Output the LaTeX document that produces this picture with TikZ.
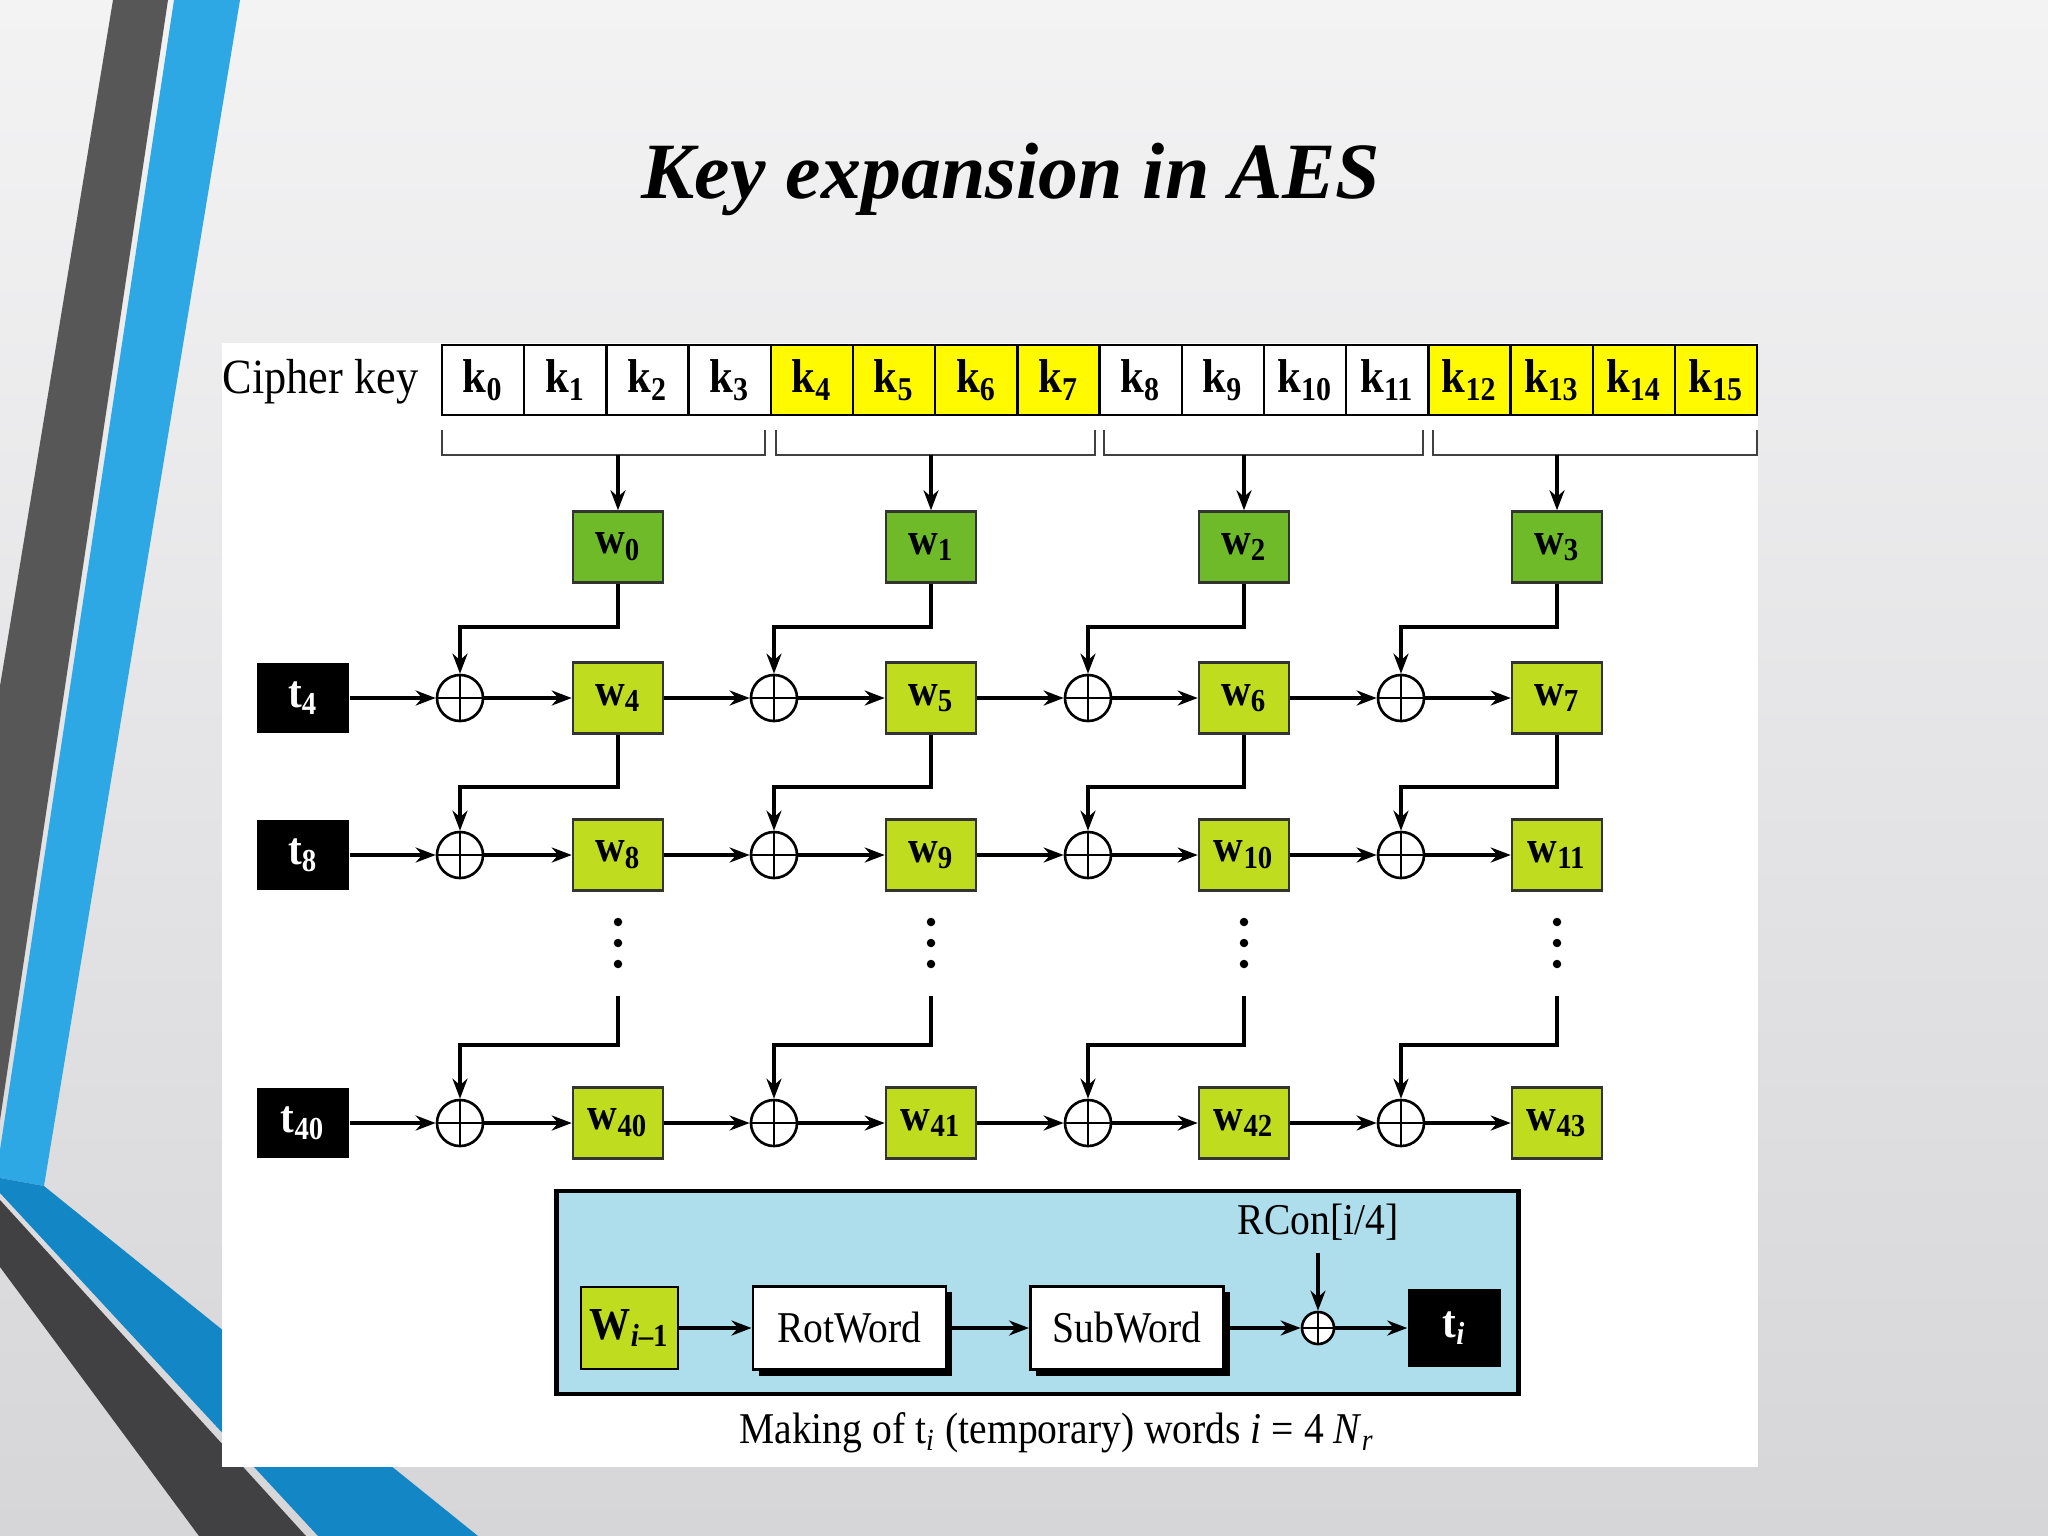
\documentclass[tikz,border=0pt]{standalone}
\usepackage{fontspec}
\setmainfont{Liberation Serif}
\newfontfamily\diag[FakeStretch=0.9]{Liberation Serif}
\usetikzlibrary{arrows.meta,calc,shadows}
\definecolor{bgtop}{RGB}{243,243,244}
\definecolor{bgbot}{RGB}{214,214,217}
\definecolor{stripeblue}{RGB}{46,168,229}
\definecolor{stripegray}{RGB}{87,87,87}
\definecolor{banddark}{RGB}{65,64,66}
\definecolor{bandblue}{RGB}{19,134,197}
\definecolor{keyyellow}{RGB}{255,250,0}
\definecolor{wdark}{RGB}{110,186,40}
\definecolor{wlime}{RGB}{192,220,30}
\definecolor{panelblue}{RGB}{174,222,236}
\begin{document}
\begin{tikzpicture}[x=0.01cm, y=-0.01cm,
  kcell/.style={draw=black, line width=0.7pt, minimum width=0.822cm, minimum height=0.70cm, inner sep=0pt, font=\diag\fontsize{13.5}{15}\selectfont\bfseries},
  wbox/.style={draw=black!80, line width=0.7pt, minimum width=0.90cm, minimum height=0.71cm, inner sep=0pt, font=\diag\fontsize{13}{15}\selectfont\bfseries},
  tbox/.style={fill=black, text=white, minimum width=0.92cm, minimum height=0.70cm, inner sep=0pt, font=\diag\fontsize{13}{15}\selectfont\bfseries},
  xorc/.style={circle, draw=black, fill=white, line width=0.75pt, minimum size=0.46cm, inner sep=0pt,
    path picture={\draw[line width=0.75pt] (path picture bounding box.north) -- (path picture bounding box.south)
      (path picture bounding box.west) -- (path picture bounding box.east);}},
  arr/.style={-{Stealth[length=0.2cm,width=0.15cm]}, line width=1pt},
  brk/.style={line width=0.6pt, draw=black!75},
  opbox/.style={draw=black, fill=white, line width=0.8pt, minimum width=1.93cm, minimum height=0.83cm, inner sep=0pt,
    drop shadow={shadow xshift=0.06cm, shadow yshift=-0.06cm, fill=black, opacity=1}, font=\diag\fontsize{12.5}{15}\selectfont},
  dotn/.style={circle, fill=black, minimum size=0.085cm, inner sep=0pt}
]
\useasboundingbox (0,0) rectangle (2048,1536);
% background
\shade[top color=bgtop, bottom color=bgbot] (0,0) rectangle (2048,1536);
% decoration stripes
\fill[stripegray] (113,0) -- (168,0) -- (0,1120) -- (0,686) -- cycle;
\fill[stripeblue] (174,0) -- (240,0) -- (44,1186) -- (0,1178) -- (0,1150) -- cycle;
\fill[bandblue] (0,1178) -- (44,1186) -- (478,1536) -- (318,1536) -- (0,1193) -- cycle;
\fill[banddark] (0,1200) -- (306,1536) -- (199,1536) -- (0,1267) -- cycle;
% white panel
\fill[white] (222,343) rectangle (1758,1467);
% title
\node[anchor=base, inner sep=0pt, font=\fontsize{22.7}{28}\selectfont\bfseries\itshape] (title) at (1011,198) {Key expansion in AES};
% cipher key
\node[anchor=west, inner sep=0pt, font=\diag\fontsize{14}{16}\selectfont] (ck) at (222,382) {Cipher key};
\foreach \i in {0,...,15} {
  \pgfmathsetmacro\cx{483.1+82.2*\i}
  \pgfmathtruncatemacro\grp{mod(floor(\i/4),2)}
  \ifnum\grp=1 \def\kf{keyyellow}\else\def\kf{white}\fi
  \node[kcell, fill=\kf] (k\i) at (\cx,380) {k\textsubscript{\i}};
}
% brackets
\foreach \a/\b in {442/765, 776/1095, 1104/1423, 1433/1757} {
  \draw[brk] (\a,430) |- (\b,455) -- (\b,430);
}
% columns
\foreach \c/\wx/\xx in {0/618/460, 1/931/774, 2/1244/1088, 3/1557/1401} {
  \coordinate (b\c) at (\wx,455);
  \node[wbox, fill=wdark] (w0\c) at (\wx,547) {w\textsubscript{\c}};
  \draw[arr] (b\c) -- (w0\c.north);
  \foreach \r/\ry/\base in {1/698/4, 2/855/8, 3/1123/40} {
    \pgfmathtruncatemacro\idx{\base+\c}
    \node[xorc] (x\r\c) at (\xx,\ry) {};
    \node[wbox, fill=wlime] (w\r\c) at (\wx,\ry) {w\textsubscript{\idx}};
    \draw[arr] (x\r\c.east) -- (w\r\c.west);
  }
  \node[dotn] (da\c) at (\wx,922) {};
  \node[dotn] (db\c) at (\wx,943) {};
  \node[dotn] (dc\c) at (\wx,964) {};
  \coordinate (d\c) at (\wx,996);
  \draw[arr] (w0\c.south) -- ++(0,43) -| (x1\c.north);
  \draw[arr] (w1\c.south) -- ++(0,52) -| (x2\c.north);
  \draw[arr] (d\c) -- ++(0,49) -| (x3\c.north);
}
% t boxes and horizontal links
\foreach \r/\ry/\base in {1/698/4, 2/855/8, 3/1123/40} {
  \node[tbox] (t\r) at (303,\ry) {t\textsubscript{\base}};
  \draw[arr] (t\r.east) -- (x\r0.west);
  \foreach \c/\n in {0/1, 1/2, 2/3} {
    \draw[arr] (w\r\c.east) -- (x\r\n.west);
  }
}
% bottom panel
\node[draw=black, line width=1.3pt, fill=panelblue, minimum width=9.61cm, minimum height=2.03cm, inner sep=0pt] (panel) at (1037.5,1292.5) {};
\node[wbox, fill=wlime, draw=black, minimum width=0.97cm, minimum height=0.82cm, font=\diag\fontsize{13}{16}\selectfont\bfseries] (wim) at (629.5,1328) {W\textsubscript{\textit{i}–1}};
\node[opbox] (rot) at (849.5,1328) {RotWord};
\node[opbox] (sub) at (1127,1328) {SubWord};
\node[xorc, minimum size=0.32cm] (xs) at (1318,1328) {};
\node[tbox, minimum width=0.93cm, minimum height=0.78cm] (ti) at (1454.5,1328) {t\textsubscript{\textit{i}}};
\node[inner sep=0pt, font=\diag\fontsize{12.5}{15}\selectfont] (rcon) at (1318,1222) {RCon[i/4]};
\draw[arr] (wim.east) -- (rot.west);
\draw[arr] (rot.east) -- (sub.west);
\draw[arr] (sub.east) -- (xs.west);
\draw[arr] (xs.east) -- (ti.west);
\draw[arr] ($(rcon.south -| xs.north)+(0,12)$) -- (xs.north);
\node[inner sep=0pt, font=\diag\fontsize{12.5}{15}\selectfont] (cap) at (1057,1433) {Making of t\textsubscript{\textit{i}} (temporary) words \textit{i} = 4 \textit{N}\textsubscript{\textit{r}}};
\end{tikzpicture}
\end{document}
